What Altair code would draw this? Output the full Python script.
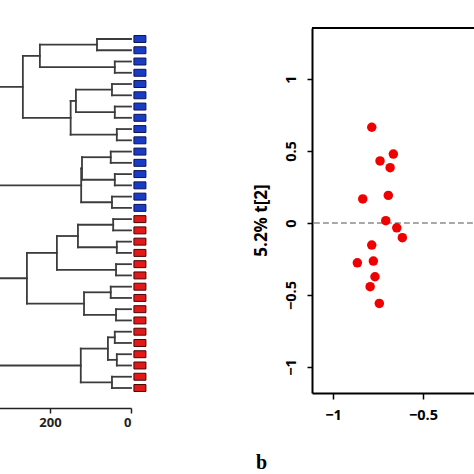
import altair as alt
import pandas as pd

# ---------------- Panel a: dendrogram (only its right part is visible) ----------------
leaf_group = ["blue"] * 16 + ["red"] * 16
merge_left = ["L1", "L3", "N1", "L5", "L7", "N4", "L9", "N6", "N3", "L11", "L13", "N10", "L15", "N12", "N9",
              "L17", "L19", "N16", "L21", "N18", "L23", "L25", "N21", "N20", "L27", "L29", "N25", "L31", "N27", "N24",
              "N15"]
merge_right = ["L2", "L4", "N2", "L6", "L8", "N5", "L10", "N7", "N8", "L12", "L14", "N11", "L16", "N13", "N14",
               "L18", "L20", "N17", "L22", "N19", "L24", "L26", "N22", "N23", "L28", "L30", "N26", "L32", "N28", "N29",
               "N30"]
merge_height = [84, 40, 225, 47, 40, 136, 35, 149, 267, 50, 40, 121, 47, 123, 360,
                44, 35, 131, 37, 183, 50, 37, 116, 257, 40, 35, 57, 47, 124, 370,
                480]
dendro_ticks = [0, 200]

# ---------------- Panel b: score plot ----------------
t1 = [-0.785, -0.665, -0.739, -0.683, -0.693, -0.835, -0.707, -0.646, -0.615,
      -0.785, -0.865, -0.776, -0.767, -0.794, -0.743]
t2 = [0.665, 0.479, 0.431, 0.384, 0.192, 0.167, 0.016, -0.033, -0.102,
      -0.153, -0.276, -0.264, -0.373, -0.442, -0.558]
x_ticks = [-1, -0.5]
y_ticks = [-1, -0.5, 0, 0.5, 1]
y_title = "5.2% t[2]"
panel_label = "b"

# ---------- build dendrogram segments from the merge table ----------
pos = {f"L{i + 1}": i + 1 for i in range(len(leaf_group))}
hgt = {k: 0 for k in pos}
rows = []
for k, (l, r, h) in enumerate(zip(merge_left, merge_right, merge_height), start=1):
    rows.append(dict(h1=hgt[l], h2=h, p1=pos[l], p2=pos[l]))
    rows.append(dict(h1=hgt[r], h2=h, p1=pos[r], p2=pos[r]))
    rows.append(dict(h1=h, h2=h, p1=pos[l], p2=pos[r]))
    pos[f"N{k}"] = (pos[l] + pos[r]) / 2
    hgt[f"N{k}"] = h
seg = pd.DataFrame(rows)
leaves = pd.DataFrame({"leaf": list(range(1, len(leaf_group) + 1)), "group": leaf_group})
scores = pd.DataFrame({"t1": t1, "t2": t2})

LABEL_FONT = "Open Sans"

dx_scale = alt.Scale(domain=[0, 400], range=[131, -31], nice=False, zero=False)
dy_scale = alt.Scale(domain=[1, 32], range=[39, 388], nice=False, zero=False)

lines = alt.Chart(seg).mark_rule(color="#3c3c3c", strokeWidth=1.8, strokeCap="square").encode(
    x=alt.X("h1:Q", scale=dx_scale,
            axis=alt.Axis(orient="bottom", offset=-66, values=dendro_ticks, format="d", title=None,
                          grid=False, domainColor="#222222", domainWidth=1.5, tickColor="#222222",
                          tickWidth=1.5, tickSize=5, labelPadding=3, labelFont=LABEL_FONT,
                          labelFontSize=13, labelFontWeight="bold", labelColor="#222222")),
    x2="h2:Q",
    y=alt.Y("p1:Q", scale=dy_scale, axis=None),
    y2="p2:Q",
)

boxes = alt.Chart(leaves).mark_point(
    shape="M-1,-0.58H1V0.58H-1Z", filled=True, size=144, strokeWidth=1, opacity=1
).encode(
    x=alt.XDatum(-22, scale=dx_scale, axis=None),
    y=alt.Y("leaf:Q", scale=dy_scale, axis=None),
    fill=alt.Fill("group:N", scale=alt.Scale(domain=["blue", "red"], range=["#1a3cc4", "#e01a1a"]), legend=None),
    stroke=alt.Stroke("group:N", scale=alt.Scale(domain=["blue", "red"], range=["#0b1550", "#4a0505"]),
                      legend=None),
)

sx = alt.Scale(domain=[-1.117, 0.5], range=[312, 603], nice=False, zero=False)
sy = alt.Scale(domain=[-1.18, 1.354], range=[393, 28], nice=False, zero=False)

zero_line = alt.Chart(scores).mark_rule(color="#a8a8a8", strokeWidth=1.5, strokeDash=[5, 4]).encode(
    x=alt.XDatum(-1.105, scale=sx, axis=None),
    x2=alt.X2Datum(0.5),
    y=alt.YDatum(0, scale=sy, axis=None),
)
top_line = alt.Chart(scores).mark_rule(color="black", strokeWidth=2).encode(
    x=alt.XDatum(-1.117, scale=sx, axis=None),
    x2=alt.X2Datum(0.5),
    y=alt.YDatum(1.354, scale=sy, axis=None),
)
pts = alt.Chart(scores).mark_circle(size=90, color="#f00000", opacity=1).encode(
    x=alt.X("t1:Q", scale=sx,
            axis=alt.Axis(orient="bottom", offset=-81, values=x_ticks, format="~g",
                          title=None, grid=False, domainColor="black", domainWidth=2, tickColor="black",
                          tickWidth=1.5, tickSize=6, labelPadding=9, labelFont=LABEL_FONT,
                          labelFontSize=14.5, labelFontWeight="bold", labelColor="black")),
    y=alt.Y("t2:Q", scale=sy,
            axis=alt.Axis(orient="left", offset=-312, values=y_ticks, format="~g",
                          labelAngle=270, labelAlign="center", labelBaseline="bottom",
                          grid=False, domainColor="black", domainWidth=2, tickColor="black",
                          tickWidth=1.5, tickSize=5, labelPadding=9, labelFont=LABEL_FONT,
                          labelFontSize=14.5, labelFontWeight="bold", labelColor="black",
                          title=y_title, titleX=-51, titleY=220, titleAngle=270, titleAlign="center",
                          titleBaseline="middle", titleFont=LABEL_FONT, titleFontSize=17,
                          titleFontWeight="bold", titleColor="black")),
)

chart = alt.layer(lines, boxes, zero_line, top_line, pts).resolve_scale(
    x="independent", y="independent"
).properties(
    width=474, height=474,
    autosize=alt.AutoSizeParams(type="none"),
    padding=0,
    title=alt.TitleParams(panel_label, orient="bottom", anchor="start", frame="group", offset=-5, dx=256,
                          baseline="alphabetic", font="Liberation Serif", fontSize=20, fontWeight="bold",
                          color="black"),
).configure(background="white").configure_view(stroke=None)

chart.save("out.html", embed_options={"renderer": "svg", "actions": False})
